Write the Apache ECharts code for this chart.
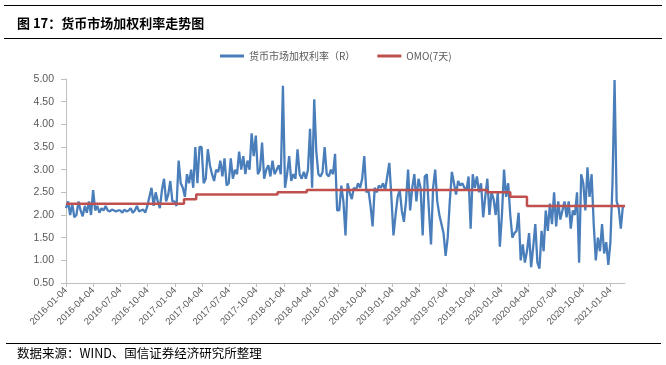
<!DOCTYPE html>
<html><head><meta charset="utf-8">
<script src="https://cdn.jsdelivr.net/npm/echarts@6/dist/echarts.min.js"></script>
<style>html,body{margin:0;padding:0;background:#fff}#c{width:666px;height:365px}</style>
</head><body><div id="c"></div>
<script>
// Tick labels shown on the x axis (quarterly)
const tickLabels = ['2016-01-04','2016-04-04','2016-07-04','2016-10-04','2017-01-04','2017-04-04','2017-07-04','2017-10-04',
  '2018-01-04','2018-04-04','2018-07-04','2018-10-04','2019-01-04','2019-04-04','2019-07-04','2019-10-04',
  '2020-01-04','2020-04-04','2020-07-04','2020-10-04','2021-01-04'];
const startDate = '2016-01-04';
const endDate = '2021-02-22';
const yTicks = [0.5, 5.0, 0.5]; // min, max, step

// Weekly readings (Mondays from 2016-01-04) of 货币市场加权利率
const blueValues = [
  // 2016 Q1
  2.15,2.3,2.0,2.25,1.95,2.0,2.3,2.1,1.97,2.2,2.05,2.3,2.0,
  // 2016 Q2
  2.55,2.1,2.2,2.05,2.15,2.1,2.2,2.1,2.08,2.12,2.1,2.08,2.1,
  // 2016 Q3
  2.1,2.05,2.12,2.08,2.1,2.15,2.05,2.1,2.2,2.08,2.1,2.12,2.05,
  // 2016 Q4
  2.2,2.4,2.6,2.2,2.5,2.3,2.15,2.55,2.8,2.3,2.45,2.75,2.3,
  // 2017 Q1
  2.3,2.2,3.2,2.7,2.6,2.4,2.9,2.7,3.0,2.6,3.5,2.7,3.5,
  // 2017 Q2
  3.5,2.7,2.8,3.45,3.1,2.9,2.75,3.0,2.95,3.2,2.85,3.25,2.65,
  // 2017 Q3
  2.7,3.25,2.8,3.0,2.9,3.4,3.0,3.3,2.9,3.2,3.0,3.8,3.3,
  // 2017 Q4
  3.75,2.9,3.0,3.6,2.8,3.0,3.1,2.85,3.2,2.9,3.0,3.1,2.9,
  // 2018 Q1
  4.85,2.6,2.9,3.3,2.75,2.9,2.8,3.45,2.9,2.8,2.95,2.8,3.0,3.9,
  // 2018 Q2
  2.6,4.55,3.4,2.9,2.85,2.95,3.5,2.9,2.85,3.0,2.9,3.35,2.1,
  // 2018 Q3
  2.1,2.65,2.3,1.55,2.7,2.5,2.35,2.6,2.55,2.7,2.6,2.8,3.3,
  // 2018 Q4
  2.5,2.55,2.2,1.75,2.6,2.5,2.65,2.6,2.7,2.55,2.85,3.15,2.4,
  // 2019 Q1
  1.55,2.0,2.4,2.55,2.1,1.85,2.3,3.0,2.1,2.6,2.9,2.3,2.8,
  // 2019 Q2
  2.6,1.55,2.85,2.9,2.1,1.35,2.6,3.0,2.3,2.0,1.8,1.6,1.1,
  // 2019 Q3
  1.5,2.3,2.95,2.7,2.45,2.75,2.65,2.7,2.6,2.55,2.85,1.7,2.9,
  // 2019 Q4
  2.6,2.85,2.5,2.7,1.95,2.4,2.8,2.0,2.5,2.35,2.0,2.5,1.3,
  // 2020 Q1
  2.0,3.0,2.4,2.7,2.0,1.5,1.6,1.65,2.05,1.0,1.35,0.95,1.2,
  // 2020 Q2
  1.6,0.85,1.3,1.8,0.95,0.82,1.65,1.2,2.1,1.65,2.25,1.8,2.5,
  // 2020 Q3
  1.75,2.3,1.9,2.1,2.3,1.95,2.3,1.7,2.1,2.0,2.5,0.95,2.9,
  // 2020 Q4
  2.7,2.1,3.05,2.4,2.9,1.8,1.0,1.5,1.2,1.8,1.15,1.4,0.9,
  // 2021 Q1
  1.4,2.7,4.98,2.3,2.15,1.7,2.2
];

// OMO 7-day rate change dates and levels
const omoDates = ['2016-01-04','2017-02-03','2017-03-16','2017-12-14','2018-03-22','2019-11-18','2020-02-03','2020-03-30','2021-02-22'];
const omoValues = [2.25,2.35,2.45,2.50,2.55,2.50,2.40,2.20,2.20];

// build daily category list
function fmt(d){const m=d.getUTCMonth()+1,dd=d.getUTCDate();return d.getUTCFullYear()+'-'+(m<10?'0':'')+m+'-'+(dd<10?'0':'')+dd;}
const categories=[];
{let d=new Date(startDate+'T00:00:00Z');const e=new Date(endDate+'T00:00:00Z');
 while(d<=e){categories.push(fmt(d));d=new Date(d.getTime()+86400000);}}
const blueData = blueValues.map((v,i)=>[categories[Math.min(i*7,categories.length-1)], v]);
const omoData = omoDates.map((d,i)=>[d, omoValues[i]]);
const tickSet = new Set(tickLabels);
const isTick = (idx,val)=>tickSet.has(val);

const chart = echarts.init(document.getElementById('c'));
const font = '"Noto Sans CJK SC","Microsoft YaHei",sans-serif';
chart.setOption({
  animation:false,
  backgroundColor:'#fff',
  title:{text:'图 17：货币市场加权利率走势图',left:12,top:12,
    textStyle:{fontFamily:font,fontSize:13,fontWeight:'bold',color:'#000'}},
  legend:{left:215,top:46,itemWidth:24,itemHeight:3,itemGap:22,icon:'rect',
    textStyle:{fontFamily:font,fontSize:10,color:'#595959'},
    data:['货币市场加权利率（R）','OMO(7天)']},
  graphic:[
    {type:'line',shape:{x1:4,y1:5.5,x2:662,y2:5.5},style:{stroke:'#000',lineWidth:1}},
    {type:'line',shape:{x1:4,y1:38.5,x2:662,y2:38.5},style:{stroke:'#000',lineWidth:1.2}},
    {type:'line',shape:{x1:6,y1:343.5,x2:661,y2:343.5},style:{stroke:'#000',lineWidth:1.2}},
    {type:'text',left:17,top:347,style:{text:'数据来源：WIND、国信证券经济研究所整理',font:'12.5px '+font,fill:'#000'}}
  ],
  grid:{left:66,top:79,right:41,bottom:82,containLabel:false},
  xAxis:{type:'category',data:categories,boundaryGap:false,
    axisLine:{lineStyle:{color:'#BFBFBF',width:1}},
    axisTick:{interval:isTick,length:4,lineStyle:{color:'#BFBFBF'}},
    axisLabel:{interval:isTick,rotate:45,fontSize:9.5,color:'#595959',fontFamily:'"Liberation Sans",sans-serif',margin:6},
    splitLine:{show:false}},
  yAxis:{type:'value',min:yTicks[0],max:yTicks[1],interval:yTicks[2],
    axisLine:{show:true,lineStyle:{color:'#BFBFBF'}},
    axisTick:{show:true,length:5,lineStyle:{color:'#BFBFBF'}},
    axisLabel:{formatter:v=>v.toFixed(2),fontSize:10.5,color:'#595959',fontFamily:'"Liberation Sans",sans-serif',margin:12},
    splitLine:{show:false}},
  series:[
    {name:'货币市场加权利率（R）',type:'line',data:blueData,symbol:'none',
      lineStyle:{color:'#4A7EBB',width:2.3},itemStyle:{color:'#4A7EBB'},z:2},
    {name:'OMO(7天)',type:'line',data:omoData,step:'end',symbol:'none',
      lineStyle:{color:'#C0504D',width:2.5},itemStyle:{color:'#C0504D'},z:3}
  ]
});
</script></body></html>
